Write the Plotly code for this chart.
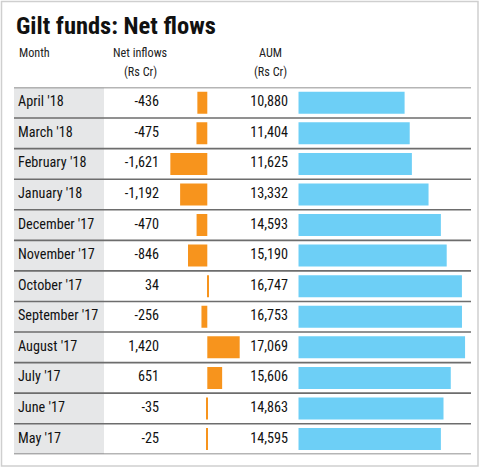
import plotly.graph_objects as go

# values
months = [
    "April '18", "March '18", "February '18", "January '18", "December '17",
    "November '17", "October '17", "September '17", "August '17", "July '17",
    "June '17", "May '17",
]
net_inflows = [-436, -475, -1621, -1192, -470, -846, 34, -256, 1420, 651, -35, -25]
aum = [10880, 11404, 11625, 13332, 14593, 15190, 16747, 16753, 17069, 15606, 14863, 14595]

W, H = 480, 468
FONT = "Roboto Condensed, Liberation Sans Narrow, DejaVu Sans Condensed, sans-serif"
ORANGE = "#f7941d"
BLUE = "#6dcff6"

# table body spans these pixel rows (top line -> bottom line)
ROW_TOP, ROW_BOT = 87.5, 454.3


def px_x(p):
    return p / W


def px_y(p):
    return 1 - p / H


fig = go.Figure()

fig.add_trace(go.Bar(
    x=net_inflows, y=months, orientation="h", marker=dict(color=ORANGE, line_width=0),
    width=0.72, xaxis="x", yaxis="y", hoverinfo="skip",
))
fig.add_trace(go.Bar(
    x=aum, y=months, orientation="h", marker=dict(color=BLUE, line_width=0),
    width=0.72, xaxis="x2", yaxis="y", hoverinfo="skip",
))

# text columns on a pixel-scaled helper axis
text_font = dict(family=FONT, size=14.2, color="#111")
fig.add_trace(go.Scatter(
    x=[18] * len(months), y=months, mode="text", text=months,
    textposition="middle right", textfont=text_font, xaxis="x3", yaxis="y", hoverinfo="skip",
))
fig.add_trace(go.Scatter(
    x=[159] * len(months), y=months, mode="text", text=[f"{v:,}" for v in net_inflows],
    textposition="middle left", textfont=text_font, xaxis="x3", yaxis="y", hoverinfo="skip",
))
fig.add_trace(go.Scatter(
    x=[288] * len(months), y=months, mode="text", text=[f"{v:,}" for v in aum],
    textposition="middle left", textfont=text_font, xaxis="x3", yaxis="y", hoverinfo="skip",
))

# orange scale: zero at x=207.3px, 0.0228 px per Rs Cr
o_zero, o_scale = 207.3, 0.0228
o_l, o_r = 160, 252
# blue scale: starts at 298.3px, 0.00977 px per Rs Cr
b_start, b_scale = 298.3, 0.00977
b_r = 472

hidden = dict(visible=False, fixedrange=True)
fig.update_layout(
    width=W, height=H, margin=dict(l=0, r=0, t=0, b=0),
    paper_bgcolor="white", plot_bgcolor="rgba(0,0,0,0)",
    showlegend=False, barmode="overlay",
    xaxis=dict(domain=[px_x(o_l), px_x(o_r)],
               range=[(o_l - o_zero) / o_scale, (o_r - o_zero) / o_scale], anchor="y", **hidden),
    xaxis2=dict(domain=[px_x(b_start), px_x(b_r)],
                range=[0, (b_r - b_start) / b_scale], anchor="y", **hidden),
    xaxis3=dict(domain=[0, 1], range=[0, W], anchor="y", **hidden),
    yaxis=dict(domain=[px_y(ROW_BOT), px_y(ROW_TOP)], range=[len(months) - 0.5, -0.5],
               type="category", **hidden),
)

shapes = [
    # outer frame
    dict(type="rect", xref="paper", yref="paper", x0=px_x(1.5), x1=px_x(478), y0=px_y(466),
         y1=px_y(1.5), line=dict(color="#cfcfcf", width=1.5), layer="below"),
    # grey month column
    dict(type="rect", xref="paper", yref="y", x0=px_x(14), x1=px_x(104), y0=-0.5,
         y1=len(months) - 0.5, fillcolor="#e6e7e8", line_width=0, layer="below"),
]
for i in range(len(months) + 1):
    shapes.append(dict(type="line", xref="paper", yref="y", x0=px_x(14), x1=px_x(471),
                       y0=i - 0.5, y1=i - 0.5, line=dict(color="#6d6d6d", width=1.6)))
fig.update_layout(shapes=shapes)

head_font = dict(family=FONT, size=12.2, color="#222")
annotations = [
    dict(text="<b>Gilt funds: Net flows</b>", x=px_x(14), y=px_y(25),
         xanchor="left", font=dict(family=FONT, size=24.5, color="#111")),
    dict(text="Month", x=px_x(17), y=px_y(53), xanchor="left", font=head_font),
    dict(text="Net inflows", x=px_x(140), y=px_y(53), xanchor="center", font=head_font),
    dict(text="(Rs Cr)", x=px_x(140), y=px_y(72), xanchor="center", font=head_font),
    dict(text="AUM", x=px_x(270), y=px_y(53), xanchor="center", font=head_font),
    dict(text="(Rs Cr)", x=px_x(270), y=px_y(72), xanchor="center", font=head_font),
]
for a in annotations:
    a.update(xref="paper", yref="paper", yanchor="middle", showarrow=False)
fig.update_layout(annotations=annotations)

# the page's default 8px body margin would push the 480x468 figure off the window
fig.write_html("out.html", config={"displayModeBar": False},
               post_script="document.body.style.margin = '0';")
